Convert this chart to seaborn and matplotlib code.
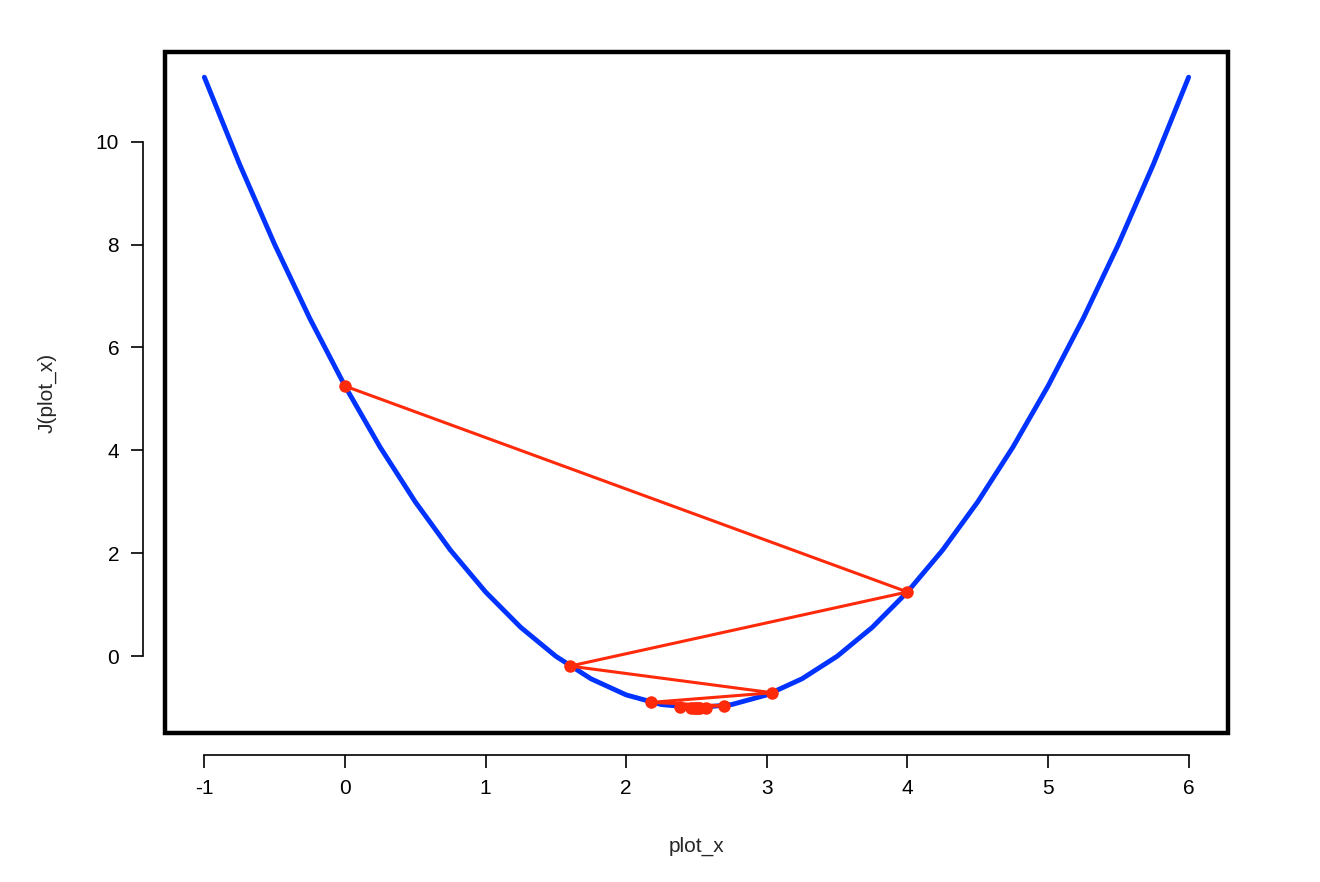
import matplotlib
matplotlib.use("Agg")
import matplotlib.pyplot as plt
import seaborn as sns
from matplotlib.patches import Rectangle

# curve J(plot_x) sampled
plot_x = [-1, -0.75, -0.5, -0.25, 0, 0.25, 0.5, 0.75, 1, 1.25, 1.5, 1.75, 2, 2.25, 2.5,
          2.75, 3, 3.25, 3.5, 3.75, 4, 4.25, 4.5, 4.75, 5, 5.25, 5.5, 5.75, 6]
plot_j = [11.25, 9.5625, 8, 6.5625, 5.25, 4.0625, 3, 2.0625, 1.25, 0.5625, 0, -0.4375, -0.75,
          -0.9375, -1, -0.9375, -0.75, -0.4375, 0, 0.5625, 1.25, 2.0625, 3, 4.0625, 5.25,
          6.5625, 8, 9.5625, 11.25]

# gradient descent steps
steps_x = [0, 4, 1.6, 3.04, 2.176, 2.6944, 2.3834, 2.5700, 2.4580, 2.5252, 2.4849, 2.5091, 2.4946]
steps_j = [5.25, 1.25, -0.19, -0.7084, -0.895, -0.9622, -0.9864, -0.9951, -0.9982, -0.9994,
           -0.9998, -0.9999, -1.0]

sns.set_style("white")
plt.rcParams["font.family"] = ["Liberation Sans", "DejaVu Sans"]

fig = plt.figure(figsize=(13.2, 8.82), dpi=100)
ax = fig.add_axes([165 / 1320, 1 - 733 / 882, (1228 - 165) / 1320, (733 - 52) / 882])

sns.lineplot(x=plot_x, y=plot_j, ax=ax, color="#0033ff", linewidth=3.5, sort=False)
sns.lineplot(x=steps_x, y=steps_j, ax=ax, color="#ff2a0a", linewidth=2.2, sort=False,
             marker="o", markersize=9, markeredgewidth=0)

ax.set_xlim(-1.28, 6.28)
ax.set_ylim(-1.49, 11.74)
ax.set_xticks(range(-1, 7))
ax.set_xticklabels([str(v) for v in range(-1, 7)])
ax.set_yticks([0, 2, 4, 6, 8, 10])
for lab in ax.get_yticklabels():
    lab.set_rotation(90)
    lab.set_va("center")

for s in ["top", "right"]:
    ax.spines[s].set_visible(False)
ax.spines["bottom"].set_position(("outward", 16))
ax.spines["left"].set_position(("outward", 16))
ax.spines["bottom"].set_bounds(-1, 6)
ax.spines["left"].set_bounds(0, 10)
for s in ["bottom", "left"]:
    ax.spines[s].set_linewidth(1.2)
    ax.spines[s].set_color("black")
ax.tick_params(direction="out", length=9, width=1.2, labelsize=15, pad=8,
               left=True, bottom=True, colors="black")
ax.add_patch(Rectangle((0, 0), 1, 1, transform=ax.transAxes, fill=False,
                       edgecolor="black", linewidth=3.2, clip_on=False, zorder=5))

ax.set_xlabel("plot_x", fontsize=15, labelpad=28)
ax.set_ylabel("J(plot_x)", fontsize=15, labelpad=28)

fig.savefig("out.png", dpi=100)
